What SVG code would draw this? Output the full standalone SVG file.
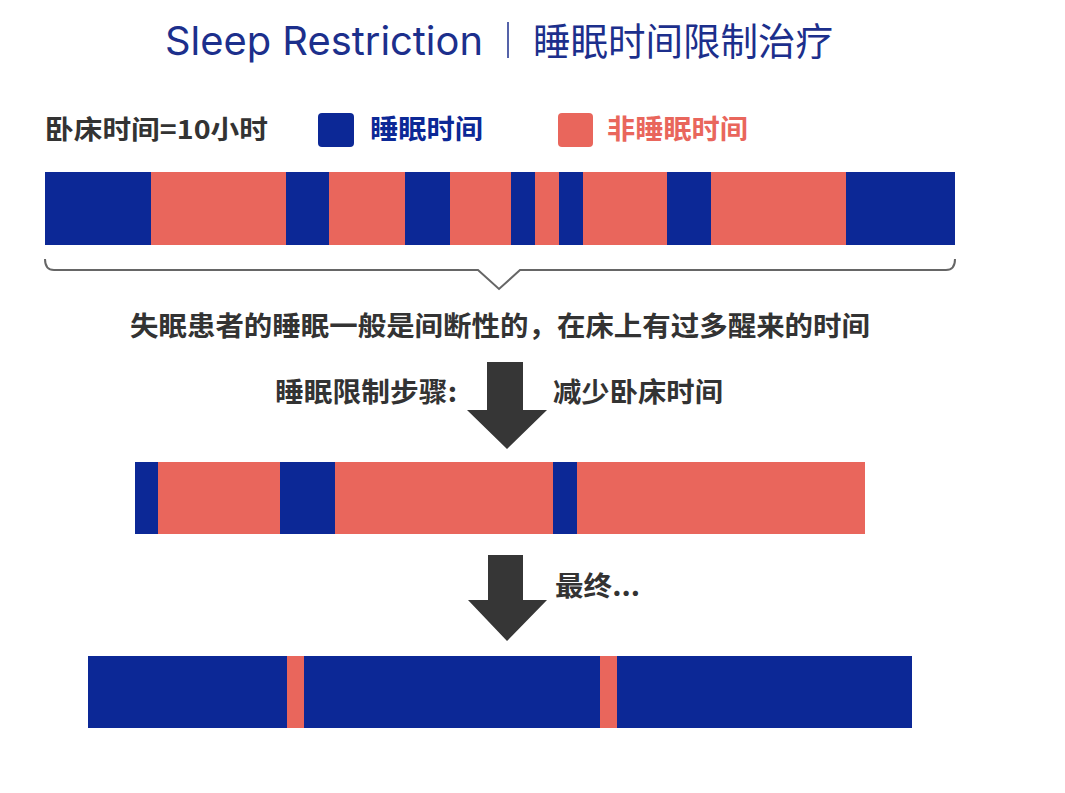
<svg xmlns="http://www.w3.org/2000/svg" width="1065" height="793" viewBox="0 0 1065 793">
<style>
.b{fill:#0c2896}
.r{fill:#e9665c}
.t{font-family:"Noto Sans CJK SC","Noto Sans",sans-serif;font-weight:bold;fill:#333}
.arr{fill:#363636}
</style>
<rect width="1065" height="793" fill="#fff"/>
<g id="title">
<text x="165" y="55" font-family="Inter,'Noto Sans',sans-serif" font-size="39" fill="#1c2f8c" textLength="318" lengthAdjust="spacingAndGlyphs">Sleep Restriction</text>
<line x1="508" y1="22" x2="508" y2="58" stroke="#1c2f8c" stroke-width="1.5"/>
<text x="533" y="55" font-family="'Noto Sans CJK SC',sans-serif" font-size="37.5" fill="#1c2f8c" textLength="300" lengthAdjust="spacingAndGlyphs">睡眠时间限制治疗</text>
</g>
<g id="legend">
<text class="t" x="45" y="139" font-size="26" textLength="223" lengthAdjust="spacingAndGlyphs">卧床时间=10小时</text>
<rect x="318" y="113" width="36" height="34" rx="4" class="b"/>
<text x="370" y="139" font-family="'Noto Sans CJK SC',sans-serif" font-weight="bold" font-size="27.5" fill="#0c2896" textLength="113" lengthAdjust="spacingAndGlyphs">睡眠时间</text>
<rect x="558" y="113" width="35" height="34" rx="4" class="r"/>
<text x="607" y="139" font-family="'Noto Sans CJK SC',sans-serif" font-weight="bold" font-size="27.5" fill="#e9665c" textLength="141" lengthAdjust="spacingAndGlyphs">非睡眠时间</text>
</g>
<g id="bar1">
<rect x="45" y="172" width="106" height="73" class="b"/>
<rect x="151" y="172" width="135" height="73" class="r"/>
<rect x="286" y="172" width="43" height="73" class="b"/>
<rect x="329" y="172" width="76" height="73" class="r"/>
<rect x="405" y="172" width="45" height="73" class="b"/>
<rect x="450" y="172" width="61" height="73" class="r"/>
<rect x="511" y="172" width="24" height="73" class="b"/>
<rect x="535" y="172" width="24" height="73" class="r"/>
<rect x="559" y="172" width="24" height="73" class="b"/>
<rect x="583" y="172" width="84" height="73" class="r"/>
<rect x="667" y="172" width="44" height="73" class="b"/>
<rect x="711" y="172" width="135" height="73" class="r"/>
<rect x="846" y="172" width="109" height="73" class="b"/>
</g>
<g id="connectors">
<path d="M45 259 Q45 270 54 270 L478 270 L499 289 L520 270 L946 270 Q955 270 955 259" fill="none" stroke="#666" stroke-width="2"/>
<polygon class="arr" points="487,362 523,362 523,410 547,410 507,449 467,410 487,410"/>
<polygon class="arr" points="488,555 523,555 523,600 547,600 507,641 468,600 488,600"/>
</g>
<g id="texts">
<text class="t" x="130" y="336" font-size="27.5" textLength="740" lengthAdjust="spacingAndGlyphs">失眠患者的睡眠一般是间断性的，在床上有过多醒来的时间</text>
<text class="t" x="275" y="402" font-size="27" textLength="182" lengthAdjust="spacingAndGlyphs">睡眠限制步骤:</text>
<text class="t" x="553" y="402" font-size="27.5" textLength="170" lengthAdjust="spacingAndGlyphs">减少卧床时间</text>
<text class="t" x="555" y="596" font-size="27" textLength="85" lengthAdjust="spacingAndGlyphs">最终...</text>
</g>
<g id="bar2">
<rect x="135" y="462" width="23" height="72" class="b"/>
<rect x="158" y="462" width="122" height="72" class="r"/>
<rect x="280" y="462" width="55" height="72" class="b"/>
<rect x="335" y="462" width="218" height="72" class="r"/>
<rect x="553" y="462" width="24" height="72" class="b"/>
<rect x="577" y="462" width="288" height="72" class="r"/>
</g>
<g id="bar3">
<rect x="88" y="656" width="199" height="72" class="b"/>
<rect x="287" y="656" width="17" height="72" class="r"/>
<rect x="304" y="656" width="296" height="72" class="b"/>
<rect x="600" y="656" width="17" height="72" class="r"/>
<rect x="617" y="656" width="295" height="72" class="b"/>
</g>
</svg>
